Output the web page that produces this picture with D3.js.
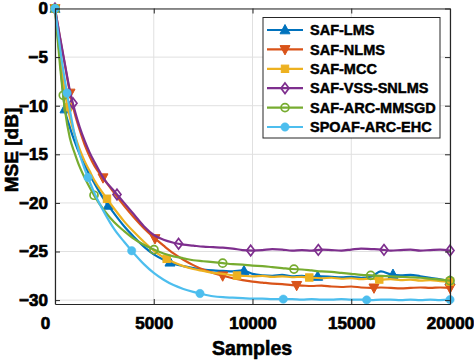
<!DOCTYPE html>
<html><head><meta charset="utf-8">
<script src="https://cdn.jsdelivr.net/npm/d3@7"></script>
<style>
body{margin:0;background:#fff}
svg text{font-family:"Liberation Sans",Arial,sans-serif !important;font-weight:bold !important;fill:#000;stroke:#000;stroke-width:0.45px}
</style>
</head><body>
<svg id="c" width="474" height="361"></svg>
<script>
// ---------------- data ----------------
const seriesNames = ["SAF-LMS","SAF-NLMS","SAF-MCC","SAF-VSS-SNLMS","SAF-ARC-MMSGD","SPOAF-ARC-EHC"];
const samples = [0,250,500,750,1000,1250,1500,1750,2000,2500,3000,3500,4000,4500,5000,5500,6000,6500,7000,7500,8000,8500,9000,9500,10000,10500,11000,11500,12000,12500,13000,13500,14000,14500,15000,15500,16000,16500,17000,17500,18000,18500,19000,19500,20000];
const lmsMSE = [0,-5.2,-10.3,-12.2,-13.7,-15.0,-16.1,-17.1,-18.0,
  -19.7,-21.1,-22.4,-23.5,-24.5,-25.3,-25.85,-26.25,-26.5,-26.7,
  -26.85,-26.95,-27.0,-27.05,-26.95,-27.3,-27.45,-27.5,-27.4,-27.55,
  -27.5,-27.6,-27.55,-27.6,-27.65,-27.6,-27.7,-27.6,-27.05,-27.35,
  -27.45,-27.4,-27.55,-27.7,-27.85,-28.05];
const nlmsMSE = [0,-3.0,-5.8,-8.6,-10.8,-12.5,-14.0,-15.2,-16.2,
  -17.6,-19.0,-20.3,-21.5,-22.6,-23.55,-24.4,-25.2,-25.85,-26.4,
  -26.85,-27.2,-27.5,-27.75,-27.95,-28.1,-28.2,-28.3,-28.35,-28.45,
  -28.5,-28.55,-28.5,-28.6,-28.65,-28.6,-28.7,-28.75,-28.7,-28.75,
  -28.8,-28.75,-28.7,-28.75,-28.7,-28.75];
const mccMSE = [0,-4.5,-8.6,-11.2,-13.0,-14.5,-15.7,-16.7,-17.7,
  -19.2,-20.6,-21.9,-23.0,-24.0,-24.9,-25.6,-26.1,-26.5,-26.8,
  -27.0,-27.2,-27.3,-27.45,-27.5,-27.55,-27.5,-27.6,-27.55,-27.65,
  -27.6,-27.7,-27.75,-27.7,-27.8,-27.75,-27.85,-27.8,-27.9,-27.85,
  -27.95,-27.9,-28.0,-27.95,-28.05,-28.1];
const vssMSE = [0,-2.9,-5.7,-8.4,-10.5,-12.2,-13.6,-14.8,-15.8,
  -17.6,-18.8,-20.0,-21.2,-22.4,-23.3,-23.8,-24.1,-24.3,-24.4,
  -24.5,-24.55,-24.6,-24.7,-24.85,-24.9,-24.85,-24.75,-24.8,-24.9,
  -24.85,-24.9,-24.8,-24.85,-24.9,-24.8,-24.7,-24.75,-24.8,-24.9,
  -24.85,-24.8,-24.9,-24.85,-24.8,-24.9];
const mmsgdMSE = [0,-5.8,-10.4,-13.3,-14.9,-16.3,-17.4,-18.4,-19.3,
  -20.8,-22.0,-22.9,-23.7,-24.3,-24.8,-25.2,-25.5,-25.7,-25.9,
  -26.0,-26.1,-26.2,-26.3,-26.35,-26.45,-26.5,-26.6,-26.7,-26.8,
  -26.85,-26.95,-27.05,-27.1,-27.2,-27.3,-27.4,-27.45,-27.5,-27.55,
  -27.6,-27.65,-27.7,-27.8,-27.9,-28.0];
const ehcMSE = [0,-4.0,-7.4,-10.4,-13.0,-15.0,-16.5,-17.8,-19.0,
  -21.0,-22.7,-24.0,-25.2,-26.3,-27.2,-27.9,-28.45,-28.85,-29.15,
  -29.4,-29.6,-29.7,-29.75,-29.8,-29.85,-29.85,-29.9,-29.9,-29.9,
  -29.95,-29.9,-29.95,-29.95,-29.9,-29.95,-29.95,-30.0,-29.95,-29.95,
  -30.0,-29.95,-30.0,-29.95,-30.0,-29.95];
// sample positions where markers are shown
const lmsMarks   = [0,506,2699,5822,9569,13300,17113,20000];
const nlmsMarks  = [0,760,2430,5063,8490,12237,16151,20000];
const mccMarks   = [0,650,2633,5655,9215,12875,16419,20000];
const vssMarks   = [0,911,3139,6258,9908,13331,16657,20000];
const mmsgdMarks = [0,420,1975,5012,8490,12100,15984,20000];
const ehcMarks   = [0,608,1671,3883,7341,11559,15781,20000];
const xTicks = [0,5000,10000,15000,20000];
const yTicks = [0,-5,-10,-15,-20,-25,-30];

// ---------------- chart ----------------
const svg = d3.select("#c");
const L=55, R=450, T=8.5, B=304;
const x = d3.scaleLinear().domain([0,20000]).range([L,R]);
const y = d3.scaleLinear().domain([-30.4,0]).range([B,T]);
const axisCol = "#262626";

const series = [
  {name:seriesNames[0], v:lmsMSE,   m:lmsMarks,   c:"#0072BD", mk:"tu"},
  {name:seriesNames[1], v:nlmsMSE,  m:nlmsMarks,  c:"#D95319", mk:"td"},
  {name:seriesNames[2], v:mccMSE,   m:mccMarks,   c:"#EDB120", mk:"sq"},
  {name:seriesNames[3], v:vssMSE,   m:vssMarks,   c:"#7E2F8E", mk:"di"},
  {name:seriesNames[4], v:mmsgdMSE, m:mmsgdMarks, c:"#77AC30", mk:"co"},
  {name:seriesNames[5], v:ehcMSE,   m:ehcMarks,   c:"#4DBEEE", mk:"cf"}
];

// grid
const grid = svg.append("g");
xTicks.forEach(t=>grid.append("line").attr("x1",x(t)).attr("x2",x(t)).attr("y1",T).attr("y2",B)
  .attr("stroke","#e0e0e0").attr("stroke-width",1));
yTicks.forEach(t=>grid.append("line").attr("x1",L).attr("x2",R).attr("y1",y(t)).attr("y2",y(t))
  .attr("stroke","#e0e0e0").attr("stroke-width",1));

function interp(xs, ys, s){
  for(let i=0;i<xs.length-1;i++){
    if(s>=xs[i] && s<=xs[i+1]){
      const f=(s-xs[i])/(xs[i+1]-xs[i]);
      return ys[i]+f*(ys[i+1]-ys[i]);
    }
  }
  return ys[ys.length-1];
}
function marker(g, type, cx, cy, col){
  if(type==="tu"){
    g.append("path").attr("d",`M${cx},${cy-5.5}L${cx+5},${cy+3.8}L${cx-5},${cy+3.8}Z`).attr("fill",col).attr("stroke",col).attr("stroke-width",1);
  } else if(type==="td"){
    g.append("path").attr("d",`M${cx},${cy+5.5}L${cx+5},${cy-3.8}L${cx-5},${cy-3.8}Z`).attr("fill",col).attr("stroke",col).attr("stroke-width",1);
  } else if(type==="sq"){
    g.append("rect").attr("x",cx-3.7).attr("y",cy-3.7).attr("width",7.4).attr("height",7.4).attr("fill",col).attr("stroke",col);
  } else if(type==="di"){
    g.append("path").attr("d",`M${cx},${cy-5.3}L${cx+4},${cy}L${cx},${cy+5.3}L${cx-4},${cy}Z`).attr("fill","none").attr("stroke",col).attr("stroke-width",1.7);
  } else if(type==="co"){
    g.append("circle").attr("cx",cx).attr("cy",cy).attr("r",4).attr("fill","none").attr("stroke",col).attr("stroke-width",1.7);
  } else {
    g.append("circle").attr("cx",cx).attr("cy",cy).attr("r",4.2).attr("fill",col).attr("stroke",col).attr("stroke-width",0.5);
  }
}

const line = d3.line().x((d,i)=>x(samples[i])).y(d=>y(d)).curve(d3.curveMonotoneX);
const plot = svg.append("g");
series.forEach(s=>{
  const g = plot.append("g");
  g.append("path").attr("d",line(s.v)).attr("fill","none").attr("stroke",s.c)
    .attr("stroke-width",2.2).attr("stroke-linejoin","round");
  s.m.forEach(ms=>marker(g, s.mk, x(ms), y(interp(samples, s.v, ms)), s.c));
});

// axes
const ax = svg.append("g").attr("transform",`translate(0,${B})`)
  .call(d3.axisBottom(x).tickValues(xTicks).tickFormat(d3.format("d")).tickSizeInner(-5).tickSizeOuter(0).tickPadding(13));
const ay = svg.append("g").attr("transform",`translate(${L},0)`)
  .call(d3.axisLeft(y).tickValues(yTicks).tickFormat(d3.format("d")).tickSizeInner(-5).tickSizeOuter(0).tickPadding(7));
const axT = svg.append("g").attr("transform",`translate(0,${T})`)
  .call(d3.axisTop(x).tickValues(xTicks).tickFormat("").tickSizeInner(-5).tickSizeOuter(0));
const ayR = svg.append("g").attr("transform",`translate(${R},0)`)
  .call(d3.axisRight(y).tickValues(yTicks).tickFormat("").tickSizeInner(-5).tickSizeOuter(0));
[ax,ay,axT,ayR].forEach(a=>{
  a.attr("font-family",null).attr("font-size",null);
  a.selectAll("path.domain").attr("stroke",axisCol).attr("stroke-width",1.2);
  a.selectAll(".tick line").attr("stroke",axisCol).attr("stroke-width",1);
  a.selectAll("text").attr("font-size","17px").attr("font-weight","bold").attr("fill","#000")
    .style("font-size","17px").style("font-weight","bold").style("stroke-width","0.7px");
});
ax.selectAll(".tick text").filter(d=>d===0).attr("x",-10);

// axis titles
svg.append("text").attr("x",252).attr("y",355).attr("text-anchor","middle")
  .style("font-size","19.5px").style("stroke-width","0.6px").text("Samples");
svg.append("text").attr("transform","translate(18,150) rotate(-90)").attr("text-anchor","middle")
  .style("font-size","19px").style("stroke-width","0.6px").text("MSE [dB]");

// legend
const lg = svg.append("g");
lg.append("rect").attr("x",263).attr("y",17.5).attr("width",177).attr("height",120.5)
  .attr("fill","#fff").attr("stroke",axisCol).attr("stroke-width",1);
series.forEach((s,i)=>{
  const cy = 30 + i*19.4;
  lg.append("line").attr("x1",267).attr("x2",303).attr("y1",cy).attr("y2",cy)
    .attr("stroke",s.c).attr("stroke-width",2.2);
  marker(lg, s.mk, 285, cy, s.c);
  lg.append("text").attr("x",310).attr("y",cy+5.2).style("font-size","14.5px").text(s.name);
});
</script>
</body></html>
